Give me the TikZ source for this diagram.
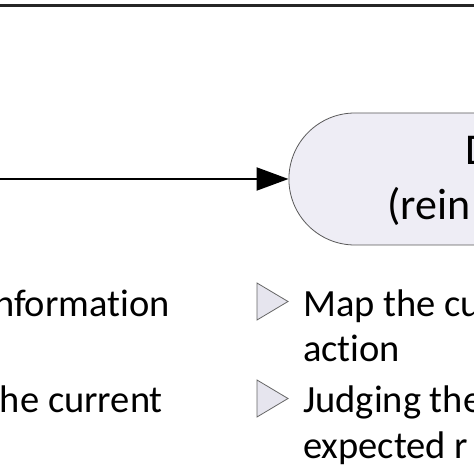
\documentclass[tikz,border=0pt]{standalone}
\usepackage{fontspec}
\setmainfont[Ligatures=NoCommon]{Carlito}
\usetikzlibrary{arrows.meta,shapes.misc}

\definecolor{boxfill}{HTML}{EEEDF5}
\definecolor{bulfill}{HTML}{E6E5EE}

\tikzset{
  lbl/.style={inner sep=0pt,font=\fontsize{38.5}{45}\selectfont},
  boxlbl/.style={inner sep=0pt,font=\fontsize{44}{55}\selectfont},
  bullet/.style={draw=black!60,line width=0.8pt,fill=bulfill},
}

\begin{document}
\begin{tikzpicture}[x=1pt,y=1pt]
  \useasboundingbox (0,0) rectangle (474,474);
  \clip (0,0) rectangle (474,474);
  \fill[white] (0,0) rectangle (474,474);
  % frame line at the top
  \coordinate (tl) at (0,468.5);
  \coordinate (tr) at (474,468.5);
  \draw[line width=3pt,black!85] (tl) -- (tr);
  % the box
  \node[draw=black!65,line width=0.8pt,fill=boxfill,rounded rectangle,
        rounded rectangle right arc=none,minimum height=132pt,
        minimum width=300pt,inner sep=0pt,anchor=west] (drl) at (288.5,295) {};
  \node[boxlbl,anchor=base west] (drlA) at (465,309) {D};
  \node[boxlbl,anchor=base west] (drlB) at (387,254) {(rein};
  \coordinate (src) at (0,295);
  \draw[line width=2.2pt,-{Triangle[length=32pt,width=23pt]}] (src) -- (drl.west);
  % left column
  \node[lbl,anchor=base east] (info) at (170,157) {nformation};
  \node[lbl,anchor=base east] (cur) at (163,61) {the current};
  % right column
  \draw[bullet] (257,191) -- (288,172.5) -- (257,154) -- cycle;
  \draw[bullet] (257,94) -- (288,75.5) -- (257,57) -- cycle;
  \node[lbl,anchor=base west] (map) at (303,157) {Map the cu};
  \node[lbl,anchor=base west] (act) at (303,112) {action};
  \node[lbl,anchor=base west] (judge) at (303,61) {Judging the};
  \node[lbl,anchor=base west] (expt) at (303,16) {expected r};
\end{tikzpicture}
\end{document}
